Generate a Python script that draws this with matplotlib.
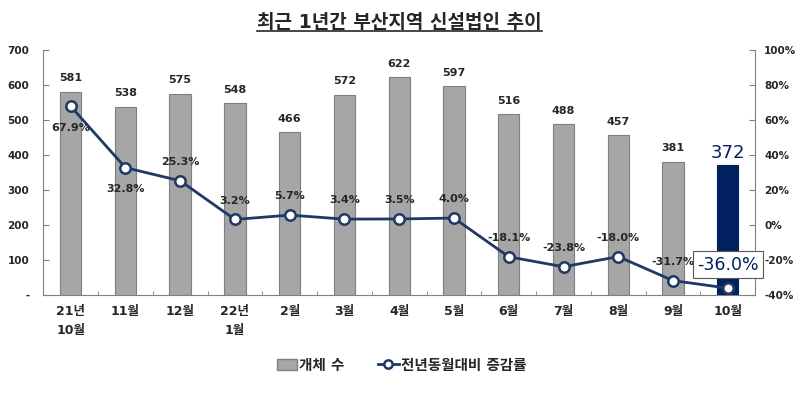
import matplotlib
matplotlib.use("Agg")
import matplotlib.pyplot as plt
from matplotlib.lines import Line2D
from matplotlib.patches import Patch

plt.rcParams['font.family'] = ['DejaVu Sans', 'Noto Sans CJK KR']

categories = ["21년\n10월", "11월", "12월", "22년\n1월", "2월", "3월", "4월", "5월",
              "6월", "7월", "8월", "9월", "10월"]
counts = [581, 538, 575, 548, 466, 572, 622, 597, 516, 488, 457, 381, 372]
growth = [67.9, 32.8, 25.3, 3.2, 5.7, 3.4, 3.5, 4.0, -18.1, -23.8, -18.0, -31.7, -36.0]
left_ticks = [0, 100, 200, 300, 400, 500, 600, 700]
left_tick_labels = ["-", "100", "200", "300", "400", "500", "600", "700"]
right_ticks = [-40, -20, 0, 20, 40, 60, 80, 100]

navy = "#002060"
line_col = "#1f3864"
gray = "#a6a6a6"
txt = "#262626"

fig = plt.figure(figsize=(8, 3.93), dpi=100)
ax = fig.add_axes([0.054, 0.249, 0.89, 0.624])
x = list(range(len(categories)))
colors = [gray] * (len(counts) - 1) + [navy]
edges = ["#7f7f7f"] * (len(counts) - 1) + [navy]
ax.bar(x, counts, width=0.39, color=colors, edgecolor=edges, linewidth=0.8, zorder=2)
ax.set_ylim(0, 700)
ax.set_xlim(-0.5, len(categories) - 0.5)
ax.set_yticks(left_ticks)
ax.set_yticklabels(left_tick_labels, fontsize=7.5, fontweight='bold', color=txt)
ax.set_xticks(x)
ax.set_xticklabels(categories, fontsize=9, fontweight='bold', linespacing=1.65,
                   va='top', color=txt)
ax.tick_params(axis='x', length=0, pad=7)
ax.set_xticks([i + 0.5 for i in x[:-1]], minor=True)
ax.tick_params(axis='x', which='minor', direction='in', length=3, color='#808080')
ax.tick_params(axis='y', direction='in', length=4, color='#808080', pad=10)
for s in ['left', 'right', 'bottom', 'top']:
    ax.spines[s].set_color('#808080')
ax.spines['top'].set_visible(False)

for i, v in enumerate(counts):
    if i == len(counts) - 1:
        ax.annotate(f"{v}", (i, v), xytext=(0, 2), textcoords='offset points',
                    ha='center', va='bottom', fontsize=13, color=navy)
    else:
        ax.annotate(f"{v}", (i, v), xytext=(0, 6), textcoords='offset points',
                    ha='center', va='bottom', fontsize=8, fontweight='bold', color=txt)

ax2 = ax.twinx()
ax2.set_ylim(-40, 100)
ax2.set_yticks(right_ticks)
ax2.set_yticklabels([f"{t}%" for t in right_ticks], fontsize=7.5, fontweight='bold',
                    color=txt)
ax2.tick_params(axis='y', direction='in', length=4, color='#808080', pad=6.5)
for s in ['left', 'right', 'bottom', 'top']:
    ax2.spines[s].set_visible(False)
ax2.plot(x, growth, color=line_col, linewidth=2.0, marker='o', markersize=7.5,
         markerfacecolor='white', markeredgecolor=line_col, markeredgewidth=1.8, zorder=3)

for i, v in enumerate(growth):
    if i == len(growth) - 1:
        ax2.annotate(f"{v:.1f}%", (i, v), xytext=(0, 17), textcoords='offset points',
                     ha='center', va='center', fontsize=12.5, color=navy,
                     bbox=dict(boxstyle='square,pad=0.25', fc='white', ec='#595959', lw=0.8),
                     zorder=5)
    else:
        dy = -15.5 if i < 2 else 13.5
        ax2.annotate(f"{v:.1f}%", (i, v), xytext=(0, dy), textcoords='offset points',
                     ha='center', va='center', fontsize=8, fontweight='bold', color=txt,
                     zorder=4)

title = fig.text(0.499, 0.944, "최근 1년간 부산지역 신설법인 추이", ha='center', va='center',
                 fontsize=13.7, fontweight='bold', color=txt)
fig.canvas.draw()
bb = title.get_window_extent()
W, H = fig.bbox.width, fig.bbox.height
fig.lines.append(Line2D([bb.x0 / W, bb.x1 / W], [(bb.y0 + 1) / H, (bb.y0 + 1) / H],
                        transform=fig.transFigure, color=txt, lw=1.2))

handles = [Patch(facecolor=gray, edgecolor='#7f7f7f'),
           Line2D([], [], color=line_col, lw=2, marker='o', markersize=6,
                  markerfacecolor='white', markeredgewidth=1.8)]
fig.legend(handles, ["개체 수", "전년동월대비 증감률"], loc='center', ncol=2,
           bbox_to_anchor=(0.502, 0.071), frameon=False, handlelength=1.4,
           handletextpad=0.15, columnspacing=2.3,
           prop={'size': 10.5, 'weight': 'bold'}, labelcolor=txt)

fig.savefig("out.png", dpi=100)
